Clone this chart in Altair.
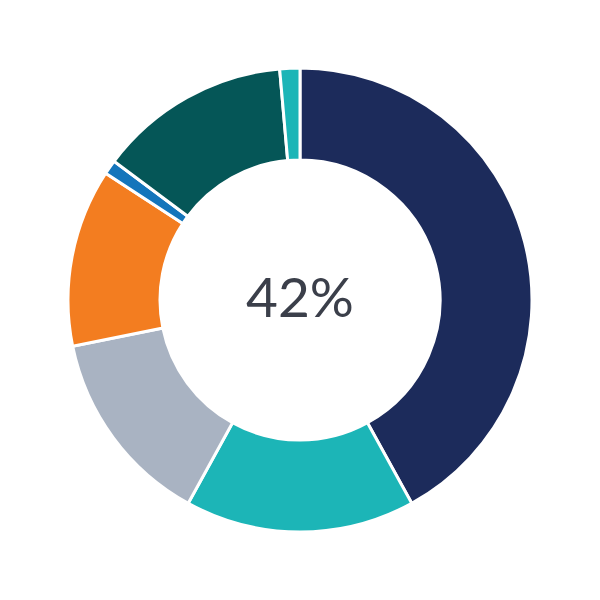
import altair as alt
import pandas as pd

categories = ["A", "B", "C", "D", "E", "F", "G"]
values = [42, 16, 13.8, 12.4, 1, 13.4, 1.4]
colors = ["#1c2b5b", "#1cb5b7", "#a9b3c2", "#f37d20", "#1475bb", "#055657", "#1cb5b7"]
order = list(range(len(categories)))
center_label = "42%"

df = pd.DataFrame({"cat": categories, "value": values, "order": order})

arcs = alt.Chart(df).mark_arc(
    innerRadius=140, outerRadius=232, stroke="white", strokeWidth=3
).encode(
    theta=alt.Theta("value:Q", stack=True),
    order=alt.Order("order:Q"),
    color=alt.Color("cat:N", scale=alt.Scale(domain=categories, range=colors), legend=None),
)

text = alt.Chart(pd.DataFrame({"t": [center_label]})).mark_text(
    font="Lato", fontSize=55, color="#3b3f4a", baseline="middle", align="center"
).encode(text="t:N")

chart = alt.layer(arcs, text).properties(width=574, height=574).configure_view(stroke=None)

chart.save("out.html", embed_options={"renderer": "svg", "actions": False})
